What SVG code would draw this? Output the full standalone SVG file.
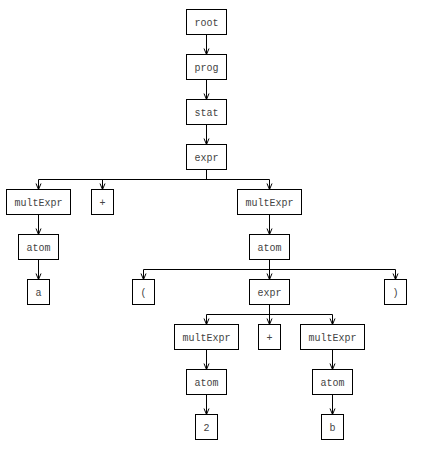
<svg xmlns="http://www.w3.org/2000/svg" width="421" height="463" viewBox="0 0 421 463">
<style>
rect{fill:#fff;stroke:#000;stroke-width:1}
text{font-family:"Liberation Mono","DejaVu Sans Mono",monospace;font-size:10px;fill:#444;text-anchor:middle}
.c path{fill:none;stroke:#000;stroke-width:1}
.c path.a{marker-end:url(#ah)}
</style>
<defs>
<marker id="ah" markerUnits="userSpaceOnUse" markerWidth="12" markerHeight="12" refX="0" refY="0" viewBox="-7 -6 12 12" orient="auto" overflow="visible">
<path d="M-6,-2.5 L0,0 L-6,2.5" fill="none" stroke="#000" stroke-width="1"/>
</marker>
</defs>
<rect x="0" y="0" width="421" height="463" style="fill:#fff;stroke:none"/>
<g transform="translate(0.5,0.5)">
<g class="c" id="connectors">
<path class="a" d="M206,34V54"/>
<path class="a" d="M206,79V99"/>
<path class="a" d="M206,124V144"/>
<path d="M206,169V179M38,179H269"/>
<path class="a" d="M38,179V189"/>
<path class="a" d="M102,179V189"/>
<path class="a" d="M269,179V189"/>
<path class="a" d="M38,214V234"/>
<path class="a" d="M38,259V279"/>
<path class="a" d="M269,214V234"/>
<path d="M269,259V269M143,269H395"/>
<path class="a" d="M143,269V279"/>
<path class="a" d="M269,269V279"/>
<path class="a" d="M395,269V279"/>
<path d="M269,304V314M206,314H332"/>
<path class="a" d="M206,314V324"/>
<path class="a" d="M269,314V324"/>
<path class="a" d="M332,314V324"/>
<path class="a" d="M206,349V369"/>
<path class="a" d="M206,394V414"/>
<path class="a" d="M332,349V369"/>
<path class="a" d="M332,394V414"/>
</g>
<g id="root"><rect x="186" y="9" width="40" height="25"/><text x="206" y="25">root</text></g>
<g id="prog"><rect x="186" y="54" width="40" height="25"/><text x="206" y="70">prog</text></g>
<g id="stat"><rect x="186" y="99" width="40" height="25"/><text x="206" y="115">stat</text></g>
<g id="expr1"><rect x="186" y="144" width="40" height="25"/><text x="206" y="160">expr</text></g>
<g id="multExpr1"><rect x="6" y="189" width="64" height="25"/><text x="38" y="205">multExpr</text></g>
<g id="plus1"><rect x="91" y="189" width="22" height="25"/><text x="102" y="205">+</text></g>
<g id="multExpr2"><rect x="237" y="189" width="64" height="25"/><text x="269" y="205">multExpr</text></g>
<g id="atom1"><rect x="18" y="234" width="40" height="25"/><text x="38" y="250">atom</text></g>
<g id="atom2"><rect x="249" y="234" width="40" height="25"/><text x="269" y="250">atom</text></g>
<g id="a"><rect x="27" y="279" width="22" height="25"/><text x="38" y="295">a</text></g>
<g id="lparen"><rect x="132" y="279" width="22" height="25"/><text x="143" y="295">(</text></g>
<g id="expr2"><rect x="249" y="279" width="40" height="25"/><text x="269" y="295">expr</text></g>
<g id="rparen"><rect x="384" y="279" width="22" height="25"/><text x="395" y="295">)</text></g>
<g id="multExpr3"><rect x="174" y="324" width="64" height="25"/><text x="206" y="340">multExpr</text></g>
<g id="plus2"><rect x="258" y="324" width="22" height="25"/><text x="269" y="340">+</text></g>
<g id="multExpr4"><rect x="300" y="324" width="64" height="25"/><text x="332" y="340">multExpr</text></g>
<g id="atom3"><rect x="186" y="369" width="40" height="25"/><text x="206" y="385">atom</text></g>
<g id="atom4"><rect x="312" y="369" width="40" height="25"/><text x="332" y="385">atom</text></g>
<g id="n2"><rect x="195" y="414" width="22" height="25"/><text x="206" y="430">2</text></g>
<g id="b"><rect x="321" y="414" width="22" height="25"/><text x="332" y="430">b</text></g>
</g>
</svg>
